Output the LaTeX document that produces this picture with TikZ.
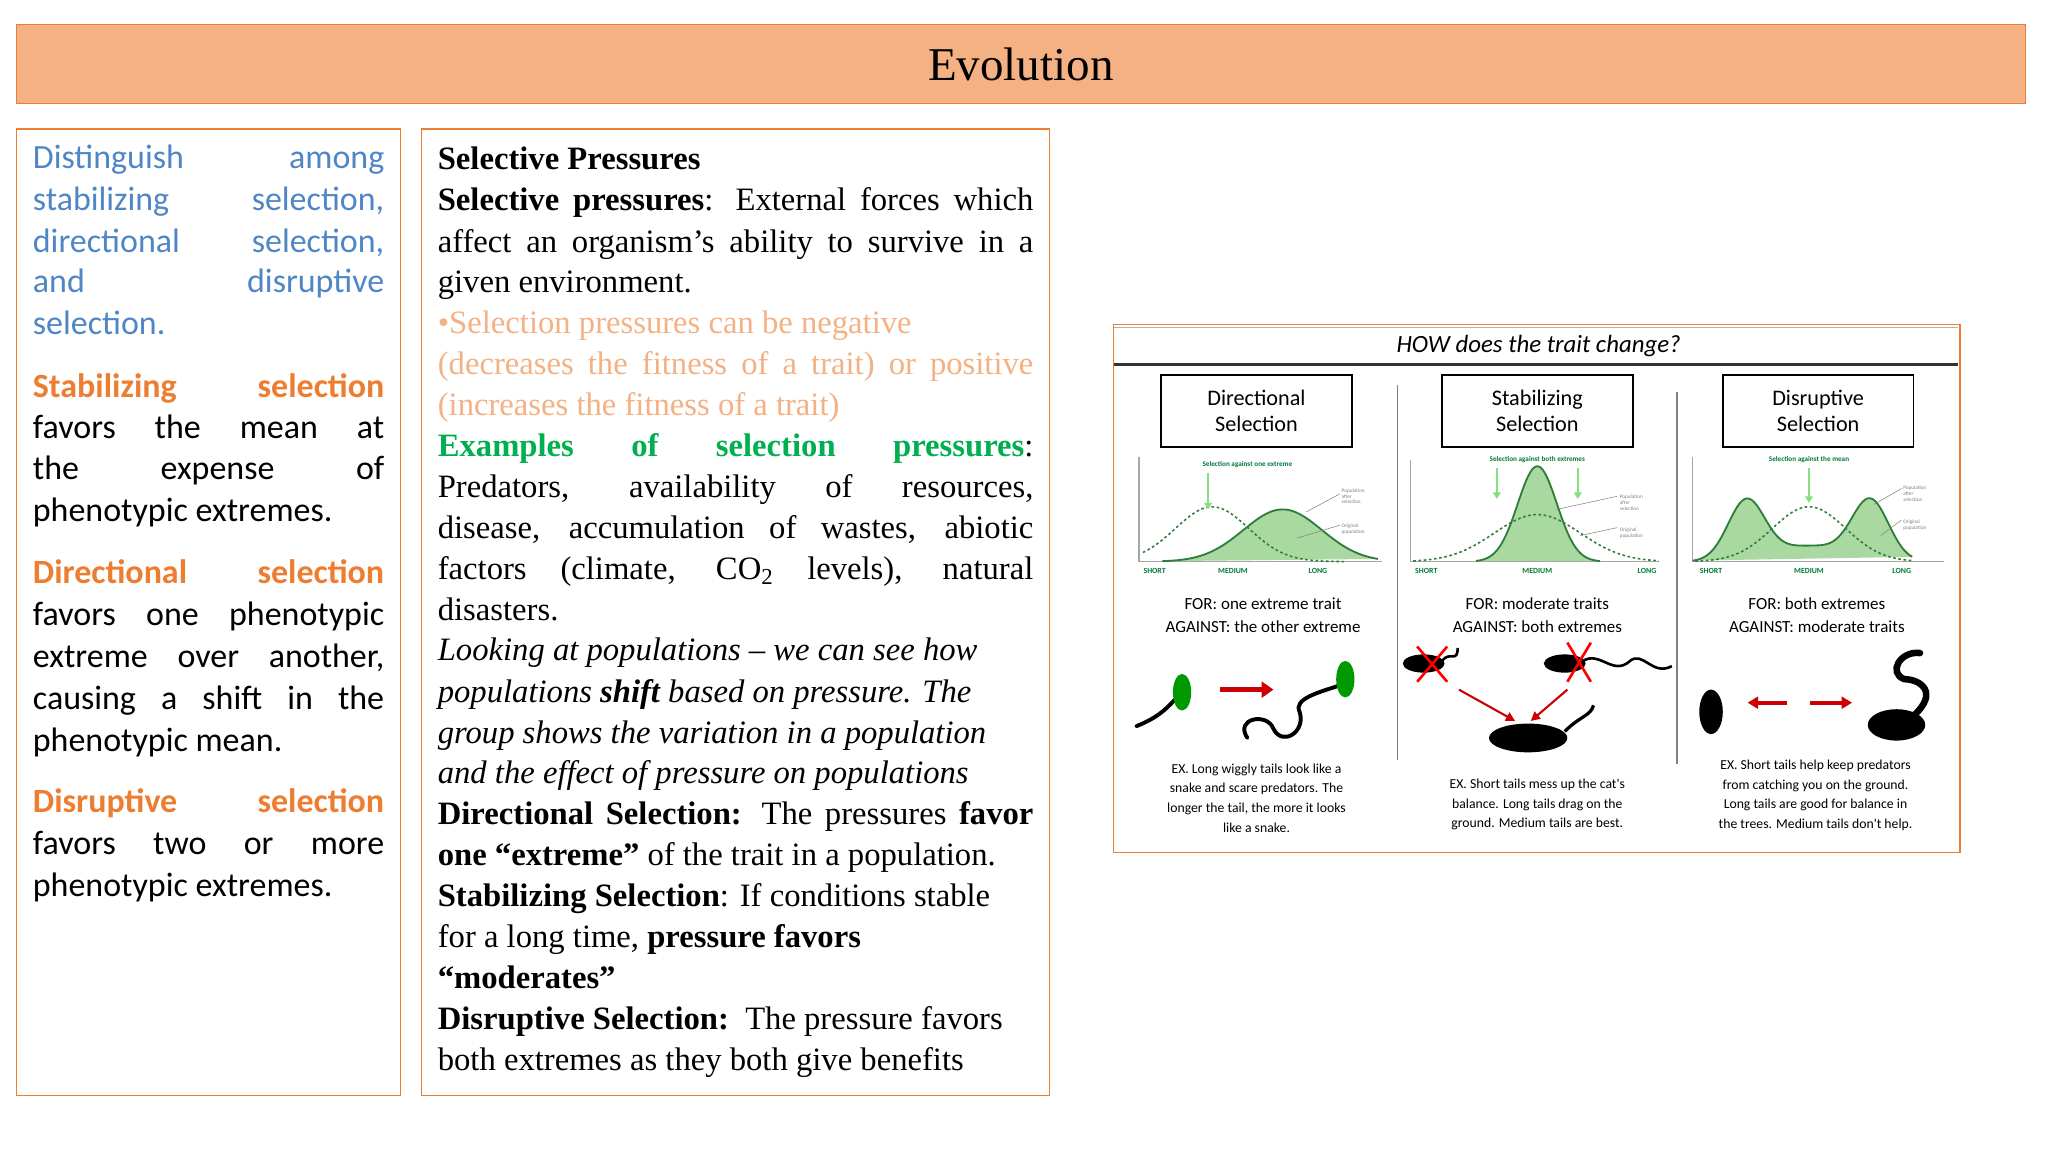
\documentclass[tikz,border=0pt]{standalone}
\usepackage{fontspec}
\setmainfont{Liberation Serif}
\newfontfamily\calfont{Carlito}
\usetikzlibrary{arrows.meta}
\definecolor{peach}{HTML}{F4B183}
\definecolor{orng}{HTML}{ED7D31}
\definecolor{blu}{HTML}{4F86C6}
\definecolor{grn}{HTML}{00B050}
\definecolor{lgrn}{HTML}{A9D8A0}
\definecolor{dgrn}{HTML}{2E7D3A}
\newcommand\mfont{\fontsize{25}{30}\selectfont}
\newcommand\lfont{\calfont\fontsize{26}{30}\selectfont}
\newcommand\J[1]{\makebox[456pt][s]{#1}}
\newcommand\LJ[1]{\makebox[269pt][s]{#1}}
\newcommand\MColLine[3]{\node[mline] (m#1) at (335,#2) {#3};}
\newcommand\LColLine[3]{\node[lline] (l#1) at (25,#2) {#3};}
\begin{document}
\begin{tikzpicture}[x=1pt,y=-1pt,
  mline/.style={anchor=base west,inner sep=0pt,font=\mfont},
  lline/.style={anchor=base west,inner sep=0pt,font=\lfont},
  panel/.style={draw=orng,line width=1.2pt},
  selbox/.style={draw=black,line width=1.3pt,minimum width=146pt,minimum height=55pt,align=center,font=\calfont\fontsize{17}{20}\selectfont},
  tiny/.style={font=\calfont\bfseries\fontsize{5.5}{6}\selectfont,text=grn!70!black,inner sep=0pt},
  axl/.style={font=\calfont\bfseries\fontsize{6}{6}\selectfont,text=grn!70!black,inner sep=0pt},
  gl/.style={font=\calfont\fontsize{4}{4.5}\selectfont,text=gray,align=left,inner sep=0pt},
  ftxt/.style={font=\calfont\fontsize{13}{17}\selectfont,align=center,inner sep=0pt},
  ex/.style={font=\calfont\fontsize{10.5}{15}\selectfont,align=center,inner sep=0pt},
  after/.style={draw=dgrn,line width=1.4pt,fill=lgrn},
  orig/.style={draw=dgrn,line width=1.2pt,dash pattern=on 2pt off 2pt},
  garr/.style={-{Triangle[length=5pt,width=6pt]},draw=lgrn!80!green,line width=2pt},
  rarr/.style={-{Triangle[length=9pt,width=12pt]},draw=red!80!black,line width=4pt},
  ]
\useasboundingbox (0,0) rectangle (1568,882);
\fill[white] (0,0) rectangle (1568,882);
% title
\node[draw=orng,fill=peach,line width=1pt,minimum width=1538pt,minimum height=61pt,anchor=north west,
  font=\fontsize{36}{40}\selectfont] (title) at (12,18) {Evolution};
% left panel
\node[panel,anchor=north west,minimum width=294pt,minimum height=740pt] (left) at (12,98) {};
\begin{scope}[every node/.append style={text=blu}]
\LColLine{1}{129}{\LJ{Distinguish among}}
\LColLine{2}{161}{\LJ{stabilizing selection,}}
\LColLine{3}{193}{\LJ{directional selection,}}
\LColLine{4}{224}{\LJ{and disruptive}}
\LColLine{5}{256}{selection.}
\end{scope}
\LColLine{6}{304}{\LJ{\textcolor{orng}{\bfseries Stabilizing selection}}}
\LColLine{7}{336}{\LJ{favors the mean at}}
\LColLine{8}{367}{\LJ{the expense of}}
\LColLine{9}{399}{phenotypic extremes.}
\LColLine{10}{447}{\LJ{\textcolor{orng}{\bfseries Directional selection}}}
\LColLine{11}{479}{\LJ{favors one phenotypic}}
\LColLine{12}{511}{\LJ{extreme over another,}}
\LColLine{13}{543}{\LJ{causing a shift in the}}
\LColLine{14}{575}{phenotypic mean.}
\LColLine{15}{622}{\LJ{\textcolor{orng}{\bfseries Disruptive selection}}}
\LColLine{16}{654}{\LJ{favors two or more}}
\LColLine{17}{686}{phenotypic extremes.}
% middle panel
\node[panel,anchor=north west,minimum width=481pt,minimum height=740pt] (mid) at (322,98) {};
\MColLine{1}{130}{\bfseries Selective Pressures}
\MColLine{2}{161.5}{\J{\textbf{Selective pressures}: External forces which}}
\MColLine{3}{193}{\J{affect an organism’s ability to survive in a}}
\MColLine{4}{224}{given environment.}
\MColLine{5}{255.5}{\textcolor{peach}{•Selection pressures can be negative}}
\MColLine{6}{287}{\J{\color{peach}(decreases the fitness of a trait) or positive}}
\MColLine{7}{318}{\textcolor{peach}{(increases the fitness of a trait)}}
\MColLine{8}{349.5}{\J{\textcolor{grn}{\bfseries Examples of selection pressures}:}}
\MColLine{9}{381}{\J{Predators, availability of resources,}}
\MColLine{10}{412}{\J{disease, accumulation of wastes, abiotic}}
\MColLine{11}{443.5}{\J{factors (climate, CO\textsubscript{2} levels), natural}}
\MColLine{12}{475}{disasters.}
\MColLine{13}{506}{\itshape Looking at populations – we can see how}
\MColLine{14}{537.5}{\itshape populations \textbf{shift} based on pressure. The}
\MColLine{15}{569}{\itshape group shows the variation in a population}
\MColLine{16}{600}{\itshape and the effect of pressure on populations}
\MColLine{17}{631.5}{\J{\textbf{Directional Selection:} The pressures \textbf{favor}}}
\MColLine{18}{663}{\textbf{one “extreme”} of the trait in a population.}
\MColLine{19}{694}{\textbf{Stabilizing Selection}: If conditions stable}
\MColLine{20}{725.5}{for a long time, \textbf{pressure favors}}
\MColLine{21}{757}{\textbf{“moderates”}}
\MColLine{22}{788}{\textbf{Disruptive Selection:}\ \ The pressure favors}
\MColLine{23}{819.5}{both extremes as they both give benefits}
% right figure
\node[panel,anchor=north west,minimum width=648pt,minimum height=404pt] (fig) at (852,248) {};
\draw[gray!60,line width=1pt] (853,251) -- (1499,251);
\node[font=\calfont\itshape\fontsize{19}{20}\selectfont] (ftitle) at (1178,265) {HOW does the trait change?};
\draw[black!80,line width=2.2pt] (853,279) -- (1499,279);
\node[selbox] (b1) at (962,314.5) {Directional\\Selection};
\node[selbox] (b2) at (1177,314.5) {Stabilizing\\Selection};
\node[selbox] (b3) at (1392,314.5) {Disruptive\\Selection};
\draw[gray,line width=1pt] (1070,295) -- (1070,582);
\draw[gray,line width=1pt] (1284,300) -- (1284,585);
% panel 1 graph
\draw[gray!70,line width=1pt] (872,350) -- (872,430) -- (1058,430);
\fill[lgrn] plot[domain=890:1055,samples=70] (\x,{430-40*exp(-((\x-982)/30)^2/2)}) -- cycle;
\draw[after,fill=none] plot[domain=890:1055,samples=70] (\x,{430-40*exp(-((\x-982)/30)^2/2)});
\draw[orig] plot[domain=875:1030,samples=70] (\x,{430-42*exp(-((\x-928)/28)^2/2)});
\node[tiny] (s1) at (955,356) {Selection against one extreme};
\draw[garr] (925,362) -- (925,390);
\draw[gray,thin] (1000,392) -- (1026,378) (993,412) -- (1026,402);
\node[gl,anchor=west] (p1) at (1027,380) {Population\\after\\selection};
\node[gl,anchor=west] (o1) at (1027,405) {Original\\population};
\node[axl] (x11) at (884,437) {SHORT}; \node[axl] (x12) at (944,437) {MEDIUM}; \node[axl] (x13) at (1009,437) {LONG};
% panel 2 graph
\draw[gray!70,line width=1pt] (1080,352) -- (1080,430) -- (1270,430);
\fill[lgrn] plot[domain=1130:1225,samples=70] (\x,{430-73*exp(-((\x-1177)/15)^2/2)}) -- cycle;
\draw[after,fill=none] plot[domain=1130:1225,samples=70] (\x,{430-73*exp(-((\x-1177)/15)^2/2)});
\draw[orig] plot[domain=1082:1270,samples=80] (\x,{430-36*exp(-((\x-1177)/33)^2/2)});
\node[tiny] (s2) at (1177,352) {Selection against both extremes};
\draw[garr] (1146,358) -- (1146,382);
\draw[garr] (1208,358) -- (1208,382);
\draw[gray,thin] (1192,390) -- (1238,380) (1210,410) -- (1238,404);
\node[gl,anchor=west] (p2) at (1240,385) {Population\\after\\selection};
\node[gl,anchor=west] (o2) at (1240,408) {Original\\population};
\node[axl] (x21) at (1092,437) {SHORT}; \node[axl] (x22) at (1177,437) {MEDIUM}; \node[axl] (x23) at (1261,437) {LONG};
% panel 3 graph
\draw[gray!70,line width=1pt] (1296,350) -- (1296,430) -- (1488,430);
\fill[lgrn] plot[domain=1296:1464,samples=90] (\x,{430-45*exp(-((\x-1337)/14)^2/2)-45*exp(-((\x-1432)/14)^2/2)-12*exp(-((\x-1385)/30)^2/2)}) -- cycle;
\draw[after,fill=none] plot[domain=1296:1464,samples=90] (\x,{430-45*exp(-((\x-1337)/14)^2/2)-45*exp(-((\x-1432)/14)^2/2)-12*exp(-((\x-1385)/30)^2/2)});
\draw[orig] plot[domain=1298:1464,samples=80] (\x,{430-42*exp(-((\x-1385)/28)^2/2)});
\node[tiny] (s3) at (1385,352) {Selection against the mean};
\draw[garr] (1385,358) -- (1385,385);
\draw[gray,thin] (1435,386) -- (1456,374) (1440,410) -- (1456,398);
\node[gl,anchor=west] (p3) at (1457,378) {Population\\after\\selection};
\node[gl,anchor=west] (o3) at (1457,402) {Original\\population};
\node[axl] (x31) at (1310,437) {SHORT}; \node[axl] (x32) at (1385,437) {MEDIUM}; \node[axl] (x33) at (1456,437) {LONG};
% FOR / AGAINST
\node[ftxt] (f1) at (967,471) {FOR: one extreme trait\\AGAINST: the other extreme};
\node[ftxt] (f2) at (1177,471) {FOR: moderate traits\\AGAINST: both extremes};
\node[ftxt] (f3) at (1391,471) {FOR: both extremes\\AGAINST: moderate traits};
% animals (simplified silhouettes)
\draw[black,line width=3pt,line cap=round] (870,556) .. controls (890,548) and (895,540) .. (905,530);
\fill[green!60!black] (905,530) ellipse (7pt and 14pt);
\draw[black,line width=3pt,line cap=round] (955,565) .. controls (945,550) and (970,545) .. (975,558) .. controls (982,572) and (1000,560) .. (995,545) .. controls (990,535) and (1010,530) .. (1025,525);
\fill[green!60!black] (1030,520) ellipse (7pt and 14pt);
\coordinate (a1s) at (934,528); \coordinate (a1e) at (975,528);
\draw[rarr] (a1s) -- (a1e);
\fill[black] (1090,508) ellipse (16pt and 7pt); \draw[black,line width=2pt] (1104,506) .. controls (1110,498) and (1116,508) .. (1116,496);
\fill[black] (1198,508) ellipse (16pt and 7pt); \draw[black,line width=2pt] (1212,506) .. controls (1225,498) and (1235,518) .. (1248,506) .. controls (1258,498) and (1265,518) .. (1280,510);
\draw[red,line width=2pt] (1085,495) -- (1108,522) (1108,495) -- (1085,522);
\draw[red,line width=2pt] (1200,492) -- (1218,522) (1218,492) -- (1200,522);
\fill[black] (1170,565) ellipse (30pt and 11pt);
\draw[black,line width=2.5pt] (1198,560) .. controls (1210,548) and (1218,548) .. (1220,540);
\coordinate (a2a) at (1117,528); \coordinate (a2b) at (1160,552);
\coordinate (a2c) at (1200,528); \coordinate (a2d) at (1172,552);
\draw[-{Triangle[length=7pt,width=7pt]},red!80!black,line width=1.6pt] (a2a) -- (a2b);
\draw[-{Triangle[length=7pt,width=7pt]},red!80!black,line width=1.6pt] (a2c) -- (a2d);
\fill[black] (1310,545) ellipse (9pt and 17pt);
\fill[black] (1452,555) ellipse (22pt and 12pt);
\draw[black,line width=5pt,line cap=round] (1465,548) .. controls (1485,530) and (1470,520) .. (1458,520) .. controls (1445,515) and (1455,498) .. (1470,500);
\coordinate (a3a) at (1368,538); \coordinate (a3b) at (1338,538);
\coordinate (a3c) at (1386,538); \coordinate (a3d) at (1418,538);
\draw[-{Triangle[length=8pt,width=9pt]},red!80!black,line width=3pt] (a3a) -- (a3b);
\draw[-{Triangle[length=8pt,width=9pt]},red!80!black,line width=3pt] (a3c) -- (a3d);
% EX texts
\node[ex] (e1) at (962,611) {EX. Long wiggly tails look like a\\snake and scare predators. The\\longer the tail, the more it looks\\like a snake.};
\node[ex] (e2) at (1177,616) {EX. Short tails mess up the cat's\\balance. Long tails drag on the\\ground. Medium tails are best.};
\node[ex] (e3) at (1390,609) {EX. Short tails help keep predators\\from catching you on the ground.\\Long tails are good for balance in\\the trees. Medium tails don't help.};
\end{tikzpicture}
\end{document}
